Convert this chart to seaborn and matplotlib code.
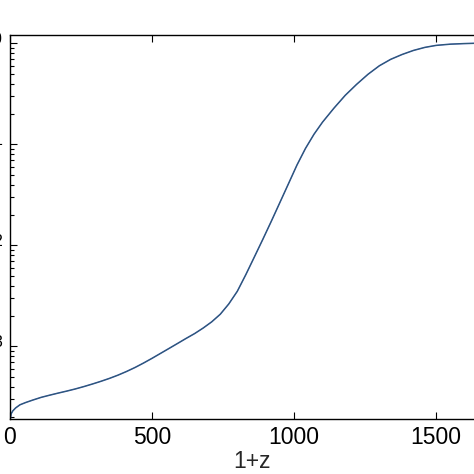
import numpy as np
import pandas as pd
import matplotlib
matplotlib.use('Agg')
import matplotlib.pyplot as plt
import matplotlib.ticker as mticker
import seaborn as sns

# values (1+z, ionization fraction)
one_plus_z = [1, 4, 10, 20, 35, 55, 80, 110, 140, 170, 200, 230, 260, 290, 320,
              350, 380, 410, 440, 470, 500, 530, 560, 590, 620, 650, 680, 710,
              740, 770, 800, 830, 860, 890, 920, 950, 980, 1010, 1040, 1070,
              1100, 1140, 1180, 1220, 1260, 1300, 1340, 1380, 1420, 1460, 1500,
              1550, 1600, 1650, 1700]
x_e = [1.91e-4, 2.15e-4, 2.30e-4, 2.46e-4, 2.64e-4, 2.78e-4, 2.94e-4, 3.13e-4,
       3.29e-4, 3.45e-4, 3.61e-4, 3.79e-4, 4.00e-4, 4.24e-4, 4.51e-4, 4.82e-4,
       5.19e-4, 5.64e-4, 6.18e-4, 6.84e-4, 7.62e-4, 8.53e-4, 9.55e-4, 1.07e-3,
       1.20e-3, 1.34e-3, 1.52e-3, 1.75e-3, 2.08e-3, 2.63e-3, 3.51e-3, 5.13e-3,
       7.67e-3, 1.15e-2, 1.74e-2, 2.66e-2, 4.07e-2, 6.24e-2, 9.12e-2, 0.126,
       0.166, 0.228, 0.306, 0.393, 0.494, 0.600, 0.695, 0.776, 0.851, 0.912,
       0.955, 0.982, 0.995, 1.005, 1.007]
x_ticks = [0, 500, 1000, 1500]

df = pd.DataFrame({'1+z': one_plus_z, 'x_e': x_e})

sns.set_style('ticks')
plt.rcParams['font.family'] = ['Liberation Sans', 'DejaVu Sans']
plt.rcParams['mathtext.default'] = 'regular'

fig = plt.figure(figsize=(4.74, 4.74), dpi=100)
ax = fig.add_axes([10 / 474, 55 / 474, 483 / 474, 384 / 474])

# two nearly identical curves drawn on top of each other
sns.lineplot(data=df, x='1+z', y='x_e', ax=ax, color='#26439a', linewidth=1.1)
sns.lineplot(data=df, x='1+z', y='x_e', ax=ax, color='#3a7a48', linewidth=0.5, alpha=0.6)

ax.set_yscale('log')
ax.set_xlim(0, 1700)
ax.set_ylim(1.91e-4, 1.21)
ax.set_xticks(x_ticks)
ax.yaxis.set_major_locator(mticker.LogLocator(base=10))
ax.yaxis.set_minor_locator(mticker.LogLocator(base=10, subs=np.arange(2, 10)))
ax.yaxis.set_minor_formatter(mticker.NullFormatter())

ax.tick_params(which='both', direction='in', top=True, right=True,
               labelsize=16.5, width=0.8, colors='black')
ax.tick_params(which='major', length=5, pad=5)
ax.tick_params(which='minor', length=3)
for s in ax.spines.values():
    s.set_linewidth(1.0)
    s.set_color('black')

ax.set_xlabel('1+z', fontsize=16.5, labelpad=1)
ax.set_ylabel('')

fig.savefig('out.png', dpi=100)
